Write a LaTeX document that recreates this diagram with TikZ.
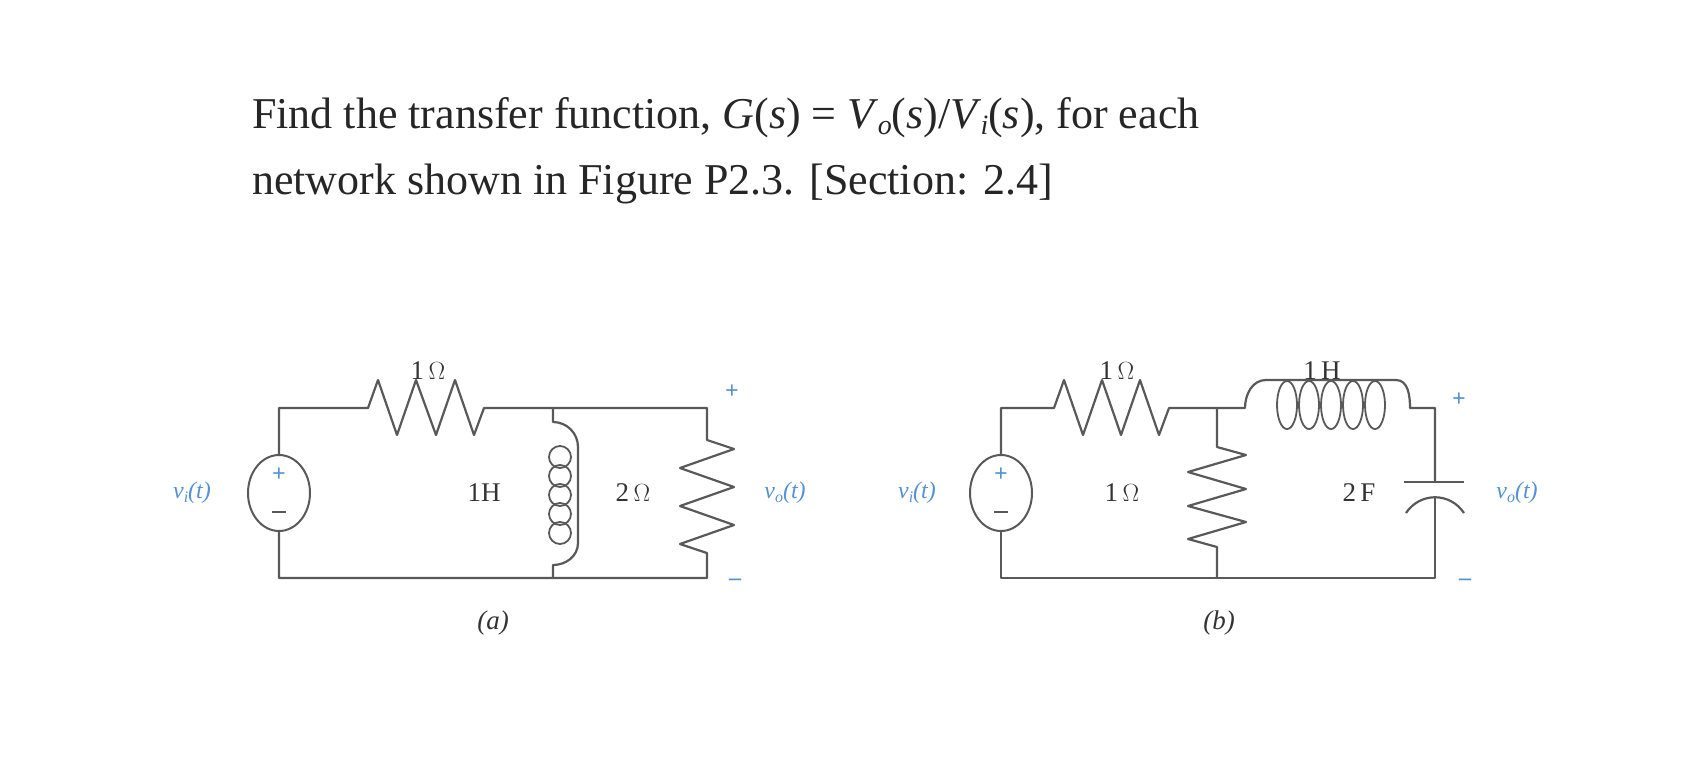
\documentclass[tikz,border=0pt]{standalone}
\usepackage{fontspec}
\setmainfont{Liberation Serif}
\usetikzlibrary{shapes.geometric}
\begin{document}
\begin{tikzpicture}[x=1pt,y=-1pt,
  wire/.style={draw=black!65,line width=2.2pt,line join=round},
  lbl/.style={text=black!80,font=\fontsize{27}{30}\selectfont,inner sep=0pt},
  blu/.style={text=cyan!55!blue!70,font=\fontsize{24}{28}\selectfont\itshape,inner sep=0pt},
  sgn/.style={text=cyan!55!blue!70,font=\fontsize{24}{28}\selectfont\bfseries,inner sep=0pt}]
\useasboundingbox (0,0) rectangle (1706,772);
% title
\node[anchor=base west,inner sep=0pt,text=black!85,font=\fontsize{44}{50}\selectfont] (t1) at (252,128)
 {Find the transfer function, \textit{G}(\textit{s}) = \textit{V}\kern-1pt\raisebox{-6pt}{\fontsize{28}{30}\selectfont\textit{o}}(\textit{s})/\textit{V}\kern-1pt\raisebox{-6pt}{\fontsize{28}{30}\selectfont\textit{i}}(\textit{s}), for each};
\node[anchor=base west,inner sep=0pt,text=black!85,font=\fontsize{44}{50}\selectfont] (t2) at (252,194)
 {network shown in Figure P2.3. [Section: 2.4]};
% ---------- circuit (a)
\draw[wire] (279,455) -- (279,408) -- (368,408) -- (378,380) -- (397,435) -- (416,380) -- (436,435) -- (455,380) -- (474,435) -- (484,408) -- (707,408) -- (707,440)
  -- (734,449) -- (680,468) -- (734,487) -- (680,506) -- (734,525) -- (680,544) -- (707,553) -- (707,578) -- (279,578) -- (279,531);
\draw[wire] (553,408) -- (553,422) to[out=0,in=90] (578,447) -- (578,543) to[out=-90,in=0] (553,565) -- (553,578);
\foreach \y in {457,476,495,514,533} \draw[wire,line width=1.8pt] (560,\y) ellipse[x radius=11,y radius=11];
\node[draw=black!65,line width=2pt,ellipse,minimum width=62pt,minimum height=76pt,inner sep=0pt] (sa) at (279,493) {};
\node[sgn] (sap) at (279,475) {+};
\draw[black!65,line width=1.8pt] (272,512) -- (286,512);
\node[blu] (via) at (192,493) {v\raisebox{-4pt}{\fontsize{16}{18}\selectfont i}(t)};
\node[lbl] (ra1) at (428,371) {1\,$\Omega$};
\node[lbl] (la) at (484,493) {1H};
\node[lbl] (ra2) at (633,493) {2\,$\Omega$};
\node[sgn] (pa) at (732,392) {+};
\node[sgn] (ma) at (735,582) {\textendash};
\node[blu] (voa) at (785,493) {v\raisebox{-4pt}{\fontsize{16}{18}\selectfont o}(t)};
\node[lbl,font=\fontsize{27}{30}\selectfont\itshape] (ca) at (493,623) {(a)};
% ---------- circuit (b)
\draw[wire] (1001,455) -- (1001,408) -- (1054,408) -- (1064,380) -- (1083,435) -- (1102,380) -- (1121,435) -- (1140,380) -- (1159,435) -- (1169,408) -- (1245,408)
  to[out=90,in=180] (1266,380) -- (1396,380) to[out=0,in=90] (1410,408) -- (1435,408) -- (1435,482);
\draw[wire] (1435,497) -- (1435,578) -- (1001,578) -- (1001,531);
\draw[wire] (1217,408) -- (1217,447) -- (1246,455) -- (1188,472) -- (1246,489) -- (1188,506) -- (1246,522) -- (1188,539) -- (1217,547) -- (1217,578);
\foreach \x in {1287,1309,1331,1353,1375} \draw[wire,line width=1.8pt] (\x,405) ellipse[x radius=10,y radius=24];
\draw[wire] (1404,482) -- (1464,482);
\draw[wire] (1406,513) .. controls (1420,492) and (1450,492) .. (1464,513);
\node[draw=black!65,line width=2pt,ellipse,minimum width=62pt,minimum height=76pt,inner sep=0pt] (sb) at (1001,493) {};
\node[sgn] (sbp) at (1001,475) {+};
\draw[black!65,line width=1.8pt] (994,512) -- (1008,512);
\node[blu] (vib) at (917,493) {v\raisebox{-4pt}{\fontsize{16}{18}\selectfont i}(t)};
\node[lbl] (rb1) at (1117,371) {1\,$\Omega$};
\node[lbl] (lb) at (1322,371) {1\,H};
\node[lbl] (rb2) at (1122,493) {1\,$\Omega$};
\node[lbl] (cb) at (1359,493) {2\,F};
\node[sgn] (pb) at (1459,400) {+};
\node[sgn] (mb) at (1465,582) {\textendash};
\node[blu] (vob) at (1517,493) {v\raisebox{-4pt}{\fontsize{16}{18}\selectfont o}(t)};
\node[lbl,font=\fontsize{27}{30}\selectfont\itshape] (cbb) at (1219,623) {(b)};
\end{tikzpicture}
\end{document}
